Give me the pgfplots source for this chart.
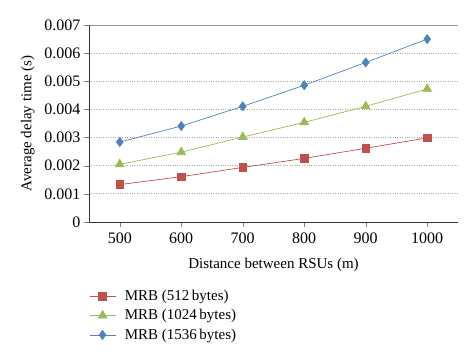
\documentclass[border=0pt]{standalone}
\usepackage{fontspec}
\setmainfont{Liberation Serif}
\usepackage{pgfplots}
\pgfplotsset{compat=1.18}
\definecolor{cred}{HTML}{C0504D}
\definecolor{cgreen}{HTML}{9BBB59}
\definecolor{cblue}{HTML}{4F81BD}
\begin{document}
\begin{tikzpicture}[x=1bp,y=1bp]
\useasboundingbox (-89bp,-140bp) rectangle (385bp,222bp);
\begin{axis}[
  at={(0,0)}, anchor=south west,
  scale only axis, width=369bp, height=197bp,
  xmin=450, xmax=1050, ymin=0, ymax=0.007,
  xtick={500,600,...,1000},
  xticklabels={500,600,700,800,900,1000},
  ytick={0,0.001,...,0.007},
  yticklabels={0,0.001,0.002,0.003,0.004,0.005,0.006,0.007},
  /pgf/number format/assume math mode=true,
  tick label style={font=\fontsize{16bp}{18bp}\selectfont},
  xticklabel style={yshift=-2bp},
  label style={font=\fontsize{15bp}{17bp}\selectfont},
  xlabel={Distance between RSUs (m)},
  ylabel={Average delay time (s)},
  xlabel style={yshift=-8bp},
  ylabel style={yshift=3bp},
  tick align=outside, tick pos=left,
  major tick length=5bp,
  axis line style={draw=none},
  ymajorgrids, grid style={gray!70, dotted, line width=0.9pt},
  scaled y ticks=false,
  legend style={at={(0bp,-64bp)}, anchor=north west, draw=none, fill=none,
    font=\fontsize{15bp}{17bp}\selectfont, row sep=3.5bp,
    legend cell align=left, inner xsep=0bp},
  legend image code/.code={\draw[mark repeat=2,mark phase=2] plot coordinates {(0bp,0bp)(13bp,0bp)(26bp,0bp)};\path (33bp,0bp);},
]
\draw[gray!80, line width=0.6pt] (axis cs:450,0) rectangle (axis cs:1050,0.007);
\draw[black!80, line width=0.8pt] (axis cs:450,0.007) -- (axis cs:450,0) -- (axis cs:1050,0);
\addplot[cred, line width=0.7pt, mark=square*, mark size=3.8bp, mark options={fill=cred}]
  coordinates {(500,0.00133) (600,0.00161) (700,0.00194) (800,0.00226) (900,0.00262) (1000,0.00299)};
\addlegendentry{MRB (512\,bytes)}
\addplot[cgreen, line width=0.7pt, mark=triangle*, mark size=5bp, mark options={fill=cgreen}]
  coordinates {(500,0.00205) (600,0.00248) (700,0.00302) (800,0.00354) (900,0.00411) (1000,0.00473)};
\addlegendentry{MRB (1024\,bytes)}
\addplot[cblue, line width=0.7pt, mark=diamond*, mark size=4.5bp, mark options={fill=cblue}]
  coordinates {(500,0.00284) (600,0.00341) (700,0.00411) (800,0.00486) (900,0.00567) (1000,0.0065)};
\addlegendentry{MRB (1536\,bytes)}
\end{axis}
\end{tikzpicture}
\end{document}
